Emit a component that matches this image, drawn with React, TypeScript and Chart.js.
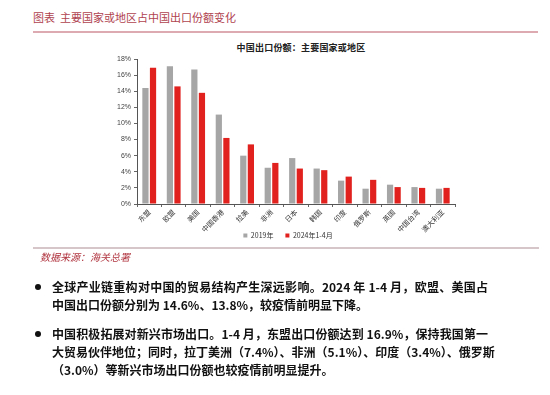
import React, { useEffect, useRef } from "react";
import { Chart, registerables } from "chart.js";

Chart.register(...registerables);

const categories = ["东盟", "欧盟", "美国", "中国香港", "拉美", "非洲", "日本", "韩国", "印度", "俄罗斯", "英国", "中国台湾", "澳大利亚"];
const share2019 = [14.4, 17.1, 16.7, 11.1, 6.0, 4.5, 5.7, 4.4, 2.9, 1.9, 2.4, 2.1, 1.9];
const share2024 = [16.9, 14.6, 13.8, 8.2, 7.4, 5.1, 4.4, 4.2, 3.4, 3.0, 2.1, 2.0, 2.0];
const seriesLabels = ["2019年", "2024年1-4月"];
const yTicks = [0, 2, 4, 6, 8, 10, 12, 14, 16, 18];

const headerText = "图表  主要国家或地区占中国出口份额变化";
const chartTitle = "中国出口份额：主要国家或地区";
const sourceText = "数据来源：海关总署";
const bullet1 = [
  "全球产业链重构对中国的贸易结构产生深远影响。2024 年 1-4 月，欧盟、美国占",
  "中国出口份额分别为 14.6%、13.8%，较疫情前明显下降。",
];
const bullet2 = [
  "中国积极拓展对新兴市场出口。1-4 月，东盟出口份额达到 16.9%，保持我国第一",
  "大贸易伙伴地位；同时，拉丁美洲（7.4%）、非洲（5.1%）、印度（3.4%）、俄罗斯",
  "（3.0%）等新兴市场出口份额也较疫情前明显提升。",
];

const CJK = "'Noto Sans CJK SC', 'Noto Sans', sans-serif";

const noLabelClip = {
  id: "noLabelClip",
  beforeDraw(c: any) {
    const s = c.scales && c.scales.x;
    if (s) s._computeLabelArea = () => undefined;
  },
};

function BarChart() {
  const ref = useRef<HTMLCanvasElement | null>(null);
  useEffect(() => {
    if (!ref.current) return;
    const chart = new Chart(ref.current, {
      type: "bar",
      data: {
        labels: categories,
        datasets: [
          {
            label: seriesLabels[0],
            data: share2019,
            backgroundColor: "#a6a6a6",
            categoryPercentage: 0.62,
            barPercentage: 0.82,
          },
          {
            label: seriesLabels[1],
            data: share2024,
            backgroundColor: "#e0211d",
            categoryPercentage: 0.62,
            barPercentage: 0.82,
          },
        ],
      },
      plugins: [noLabelClip],
      options: {
        animation: false,
        responsive: false,
        devicePixelRatio: 1,
        layout: { padding: { top: 9, left: 0, right: 0, bottom: 0 } },
        plugins: {
          title: { display: false },
          tooltip: { enabled: false },
          legend: {
            position: "bottom",
            labels: {
              boxWidth: 4,
              boxHeight: 4,
              padding: 12,
              color: "#333",
              font: { size: 7, family: CJK },
            },
          },
        },
        scales: {
          x: {
            offset: true,
            grid: { display: true, drawOnChartArea: false, offset: true, tickLength: 3, color: "#666" },
            border: { color: "#555", width: 1 },
            ticks: {
              minRotation: 45,
              maxRotation: 45,
              padding: 1,
              color: "#333",
              font: { size: 7, family: CJK },
            },
            afterFit: (s: any) => {
              s.height = 16;
            },
          },
          y: {
            min: yTicks[0],
            max: yTicks[yTicks.length - 1],
            grid: { display: true, drawOnChartArea: false, tickLength: 3, color: "#666" },
            border: { color: "#555", width: 1 },
            ticks: {
              stepSize: 2,
              padding: 3,
              color: "#444",
              font: { size: 7, family: "'Liberation Sans', Arial, sans-serif" },
              callback: (v: any) => v + "%",
            },
            afterFit: (s: any) => {
              s.width = 37;
            },
          },
          yRight: {
            position: "right",
            min: 0,
            max: 18,
            grid: { display: false },
            border: { display: false },
            ticks: { display: false },
            afterFit: (s: any) => {
              s.width = 21;
            },
          },
        },
      },
    } as any);
    return () => chart.destroy();
  }, []);
  return (
    <canvas
      ref={ref}
      width={376}
      height={199}
      style={{ position: "absolute", left: 100, top: 50, width: 376, height: 199 }}
    />
  );
}

const lineStyle = (top: number, full: boolean): React.CSSProperties => ({
  position: "absolute",
  left: 52,
  top,
  width: 436,
  height: 18,
  lineHeight: "18px",
  fontSize: 12,
  fontFamily: CJK,
  fontWeight: 700,
  color: "#111",
  textAlign: full ? "justify" : "left",
  textAlignLast: full ? "justify" : "left",
  whiteSpace: "nowrap",
} as React.CSSProperties);

const dot = (cy: number): React.CSSProperties => ({
  position: "absolute",
  left: 35,
  top: cy - 3,
  width: 6,
  height: 6,
  borderRadius: 3,
  background: "#111",
});

export default function App() {
  return (
    <div
      style={{
        position: "absolute",
        left: 0,
        top: 0,
        width: 550,
        height: 395,
        background: "#fff",
        overflow: "hidden",
      }}
    >
      <div
        style={{
          position: "absolute",
          left: 33,
          top: 10,
          fontSize: 11,
          lineHeight: "14px",
          fontFamily: CJK,
          color: "#b0434f",
          whiteSpace: "pre",
        }}
      >
        {headerText}
      </div>
      <div style={{ position: "absolute", left: 33, top: 31, width: 505, height: 1.5, background: "#dcaab0" }} />
      <div
        style={{
          position: "absolute",
          left: 200,
          width: 202,
          top: 42,
          textAlign: "center",
          fontSize: 9,
          lineHeight: "12px",
          fontWeight: 700,
          fontFamily: CJK,
          color: "#222",
          letterSpacing: 0.2,
        }}
      >
        {chartTitle}
      </div>
      <BarChart />
      <div style={{ position: "absolute", left: 33, top: 247, width: 506, height: 2, background: "#d6c6ca" }} />
      <div
        style={{
          position: "absolute",
          left: 40,
          top: 250,
          fontSize: 10,
          lineHeight: "14px",
          fontStyle: "italic",
          fontFamily: CJK,
          color: "#b0343f",
        }}
      >
        {sourceText}
      </div>
      <div style={dot(287)} />
      <div style={lineStyle(278, true)}>{bullet1[0]}</div>
      <div style={lineStyle(296, false)}>{bullet1[1]}</div>
      <div style={dot(334)} />
      <div style={lineStyle(325, true)}>{bullet2[0]}</div>
      <div style={lineStyle(343, true)}>{bullet2[1]}</div>
      <div style={lineStyle(361, false)}>{bullet2[2]}</div>
    </div>
  );
}
